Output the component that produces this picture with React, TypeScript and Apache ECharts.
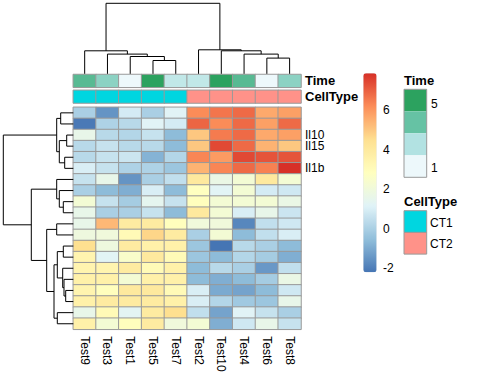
import React, { useEffect, useRef } from 'react';
import * as echarts from 'echarts';

// ---------- data ----------
const colNames = ['Test9', 'Test3', 'Test1', 'Test5', 'Test7', 'Test2', 'Test10', 'Test4', 'Test6', 'Test8'];
const timeValues = [4, 3, 1, 5, 2, 2, 5, 4, 1, 3];
const cellTypes = ['CT1', 'CT1', 'CT1', 'CT1', 'CT1', 'CT2', 'CT2', 'CT2', 'CT2', 'CT2'];
const cellTypeLevels = ['CT1', 'CT2'];
const rowIds = Array.from({ length: 20 }, (_, i) => 'row' + (i + 1));
const rowLabels = ['', '', 'Il10', 'Il15', '', 'Il1b', '', '', '', '', '', '', '', '', '', '', '', '', '', ''];

const values: number[][] = [
  [0.0, -1.5, 0.9, 0.0, 1.2, 6.2, 6.6, 6.8, 5.6, 5.8],
  [-2.1, 0.1, 0.3, 1.2, 0.9, 6.9, 6.2, 6.8, 5.8, 6.8],
  [1.6, 0.3, 0.2, 0.6, -0.6, 5.0, 6.5, 6.8, 5.6, 5.8],
  [0.3, 0.6, 0.3, 0.3, -0.6, 5.0, 7.4, 6.8, 5.4, 5.0],
  [0.3, 0.6, 0.7, -0.8, 0.2, 6.3, 5.9, 7.4, 7.2, 7.2],
  [1.0, 0.6, 0.1, 0.1, -0.3, 5.4, 6.3, 6.8, 6.4, 7.85],
  [0.6, 1.6, -1.5, 0.0, 0.5, 4.0, 1.7, 2.2, 4.0, 2.2],
  [0.0, -0.6, -0.9, 1.0, -0.6, 2.8, 1.25, 2.2, 0.9, 0.8],
  [2.2, 0.6, -0.1, 1.4, 0.6, 2.9, 2.2, 2.2, 2.2, 1.7],
  [1.6, 0.0, 0.0, 0.6, -0.6, 4.0, 2.2, 1.0, 1.6, 0.7],
  [1.6, 5.3, 3.9, 3.9, 2.9, 2.0, 2.0, -1.8, 0.5, 0.8],
  [1.9, 2.0, 3.1, 4.7, 3.9, 0.0, 2.2, -0.6, 0.5, 1.0],
  [4.5, 1.9, 3.9, 3.6, 3.6, -0.3, -2.2, 0.3, 0.0, -0.6],
  [3.4, 1.25, 2.5, 4.0, 3.1, -0.3, -0.6, 0.2, -0.1, -0.9],
  [3.4, 3.4, 3.9, 3.1, 3.6, -0.6, 0.3, 0.0, -1.4, 0.5],
  [3.6, 3.6, 2.2, 3.6, 3.6, -0.6, -0.9, -0.6, -0.1, 1.7],
  [3.4, 2.9, 4.0, 4.0, 3.1, 1.0, -1.0, -1.15, -0.6, 0.8],
  [3.6, 3.9, 3.9, 3.9, 3.6, 1.0, 0.2, -0.2, -0.3, 1.6],
  [1.6, 3.1, 1.3, 3.9, 4.5, 0.5, -1.15, 1.2, 0.6, 0.0],
  [3.6, 2.2, 2.9, 3.9, 2.0, 2.2, -0.9, 0.8, 1.6, 0.6],
];

// hclust-style merges: negative = leaf (display order, 1-based), positive = earlier merge (1-based)
const colMerges: [number, number, number][] = [
  [-4, -5, 13.3],
  [-3, 1, 17.3],
  [-2, 2, 19.7],
  [-1, 3, 23],
  [-9, -10, 15.7],
  [-8, 5, 19.7],
  [-7, 6, 23],
  [-6, 7, 24],
  [4, 8, 70.5],
];
const rowMerges: [number, number, number][] = [
  [-1, -2, 12.6],
  [-3, -4, 6.6],
  [-5, -6, 8.6],
  [2, 3, 14],
  [1, 4, 16.6],
  [-9, -10, 10],
  [-8, 6, 14],
  [-7, 7, 16.6],
  [-11, -12, 16.6],
  [-13, -14, 10],
  [-17, -18, 7.6],
  [-16, 11, 9.3],
  [-15, 12, 10.6],
  [10, 13, 16],
  [-19, -20, 16],
  [14, 15, 19.3],
  [9, 16, 26.6],
  [8, 17, 42],
  [5, 18, 70],
];

const valueMin = -2.2;
const valueMax = 7.85;
const heatPalette = ['#4575B4', '#91BFDB', '#E0F3F8', '#FFFFBF', '#FEE090', '#FC8D59', '#D73027'];
const timePalette = ['#EDF8FB', '#B2E2E2', '#66C2A4', '#2CA25F'];
const timeRange = [1, 5];
const cellTypeColors = ['#00D6E0', '#FF9289'];

// ---------- helpers ----------
function buildDendro(merges: [number, number, number][]) {
  const pos: number[] = [];
  const hts: number[] = [];
  const segs: number[][] = [];
  const node = (r: number): [number, number] => (r < 0 ? [-r - 1 + 0.5, 0] : [pos[r - 1], hts[r - 1]]);
  merges.forEach(([a, b, h], i) => {
    const [pa, ha] = node(a);
    const [pb, hb] = node(b);
    pos[i] = (pa + pb) / 2;
    hts[i] = h;
    segs.push([pa, pb, ha, hb, h]);
  });
  return segs;
}

const FONT = '"Liberation Sans", Arial, sans-serif';
const hiddenAxis = { show: false };
const noDeco = {
  axisLine: { show: false },
  axisTick: { show: false },
  splitLine: { show: false },
};

export default function App() {
  const ref = useRef<HTMLDivElement>(null);
  useEffect(() => {
    const chart = echarts.init(ref.current!, null, { renderer: 'svg' });

    const heatData: number[][] = [];
    values.forEach((row, r) => row.forEach((v, c) => heatData.push([c, r, v])));
    const timeData = timeValues.map((v, c) => [c, 0, v]);
    const ctData = cellTypes.map((t, c) => [c, 0, cellTypeLevels.indexOf(t)]);
    const colSegs = buildDendro(colMerges);
    const rowSegs = buildDendro(rowMerges);

    const HL = 73.3, HW = 227.7, HT = 107.3, HH = 222;
    const lineStyle = { stroke: '#000', lineWidth: 1, fill: 'none' };

    const legX = 404, legW = 22.7;
    const timeTop = 89.3, timeBlock = 22;
    const ctTop = 210.7, ctBlock = 21.7;
    const graphic: any[] = [
      { type: 'text', x: legX, y: 80.7, style: { text: 'Time', font: `bold 13px ${FONT}`, fill: '#000', verticalAlign: 'middle' } },
      ...timePalette.slice().reverse().map((c, k) => ({
        type: 'rect', shape: { x: legX, y: timeTop + timeBlock * k, width: legW, height: timeBlock }, style: { fill: c },
      })),
      { type: 'rect', shape: { x: legX, y: timeTop, width: legW, height: timeBlock * 4 }, style: { fill: 'none', stroke: '#999999', lineWidth: 1 } },
      { type: 'text', x: 431, y: 104, style: { text: String(timeRange[1]), font: `12px ${FONT}`, fill: '#000', verticalAlign: 'middle' } },
      { type: 'text', x: 431, y: 168.3, style: { text: String(timeRange[0]), font: `12px ${FONT}`, fill: '#000', verticalAlign: 'middle' } },
      { type: 'text', x: legX, y: 201.7, style: { text: 'CellType', font: `bold 13px ${FONT}`, fill: '#000', verticalAlign: 'middle' } },
      ...cellTypeLevels.map((lv, k) => ({
        type: 'rect', shape: { x: legX, y: ctTop + ctBlock * k, width: legW, height: ctBlock }, style: { fill: cellTypeColors[k], stroke: '#999999', lineWidth: 1 },
      })),
      ...cellTypeLevels.map((lv, k) => ({
        type: 'text', x: 430, y: ctTop + ctBlock * k + ctBlock / 2 + 1.2, style: { text: lv, font: `12px ${FONT}`, fill: '#000', verticalAlign: 'middle' },
      })),
    ];

    const option: any = {
      animation: false,
      backgroundColor: '#ffffff',
      textStyle: { fontFamily: FONT, color: '#000' },
      grid: [
        { left: HL, top: HT, width: HW, height: HH, outerBoundsMode: 'none' },
        { left: HL, top: 74.5, width: HW, height: 12.8, outerBoundsMode: 'none' },
        { left: HL, top: 90.3, width: HW, height: 12.7, outerBoundsMode: 'none' },
        { left: HL, top: 3.3, width: HW, height: 70.5, outerBoundsMode: 'none' },
        { left: 3.3, top: HT, width: 70, height: HH, outerBoundsMode: 'none' },
        { left: 363.3, top: 73.3, width: 13.3, height: 199, outerBoundsMode: 'none' },
      ],
      xAxis: [
        {
          gridIndex: 0, type: 'category', data: colNames, position: 'bottom', ...noDeco,
          axisLabel: { rotate: -90, margin: 7, interval: 0, fontSize: 12, color: '#000', fontFamily: FONT },
        },
        { gridIndex: 1, type: 'category', data: colNames, ...hiddenAxis },
        { gridIndex: 2, type: 'category', data: colNames, ...hiddenAxis },
        { gridIndex: 3, type: 'value', min: 0, max: colNames.length, ...hiddenAxis },
        { gridIndex: 4, type: 'value', min: 0, max: 70, inverse: true, ...hiddenAxis },
        { gridIndex: 5, type: 'value', min: 0, max: 1, ...hiddenAxis },
      ],
      yAxis: [
        {
          gridIndex: 0, type: 'category', data: rowIds, inverse: true, position: 'right', ...noDeco,
          axisLabel: {
            margin: 4, interval: 0, fontSize: 12, lineHeight: 10, color: '#000', fontFamily: FONT,
            formatter: (_v: string, i: number) => rowLabels[i],
          },
        },
        {
          gridIndex: 1, type: 'category', data: ['Time'], position: 'right', ...noDeco,
          axisLabel: { margin: 4, fontSize: 13, fontWeight: 'bold', color: '#000', fontFamily: FONT },
        },
        {
          gridIndex: 2, type: 'category', data: ['CellType'], position: 'right', ...noDeco,
          axisLabel: { margin: 4, fontSize: 13, fontWeight: 'bold', color: '#000', fontFamily: FONT },
        },
        { gridIndex: 3, type: 'value', min: 0, max: 70.5, ...hiddenAxis },
        { gridIndex: 4, type: 'value', min: 0, max: rowIds.length, inverse: true, ...hiddenAxis },
        {
          gridIndex: 5, type: 'value', min: valueMin, max: valueMax, position: 'right', ...noDeco,
          axisLabel: { margin: 6.5, fontSize: 12, color: '#000', fontFamily: FONT, showMinLabel: false, showMaxLabel: false },
        },
      ],
      visualMap: [
        {
          type: 'continuous', seriesIndex: 0, min: valueMin, max: valueMax, inRange: { color: heatPalette },
          left: 363.3, top: 73.3, itemWidth: 13.3, itemHeight: 199, padding: 0, calculable: false,
          hoverLink: false, orient: 'vertical', show: true,
        },
        {
          type: 'continuous', seriesIndex: 1, min: timeRange[0], max: timeRange[1], inRange: { color: timePalette }, show: false,
        },
        {
          type: 'piecewise', seriesIndex: 2, show: false,
          pieces: cellTypeLevels.map((_, k) => ({ value: k, color: cellTypeColors[k] })),
        },
      ],
      series: [
        {
          type: 'heatmap', xAxisIndex: 0, yAxisIndex: 0, data: heatData,
          itemStyle: { borderColor: '#999999', borderWidth: 1 }, emphasis: { disabled: true }, silent: true,
        },
        {
          type: 'heatmap', xAxisIndex: 1, yAxisIndex: 1, data: timeData,
          itemStyle: { borderColor: '#999999', borderWidth: 1 }, emphasis: { disabled: true }, silent: true,
        },
        {
          type: 'heatmap', xAxisIndex: 2, yAxisIndex: 2, data: ctData,
          itemStyle: { borderColor: '#999999', borderWidth: 1 }, emphasis: { disabled: true }, silent: true,
        },
        {
          type: 'custom', xAxisIndex: 3, yAxisIndex: 3, data: colSegs, silent: true,
          renderItem: (_p: any, api: any) => {
            const pa = api.value(0), pb = api.value(1), ha = api.value(2), hb = api.value(3), h = api.value(4);
            return {
              type: 'polyline',
              shape: { points: [api.coord([pa, ha]), api.coord([pa, h]), api.coord([pb, h]), api.coord([pb, hb])] },
              style: lineStyle,
            };
          },
        },
        {
          type: 'custom', xAxisIndex: 4, yAxisIndex: 4, data: rowSegs, silent: true,
          renderItem: (_p: any, api: any) => {
            const pa = api.value(0), pb = api.value(1), ha = api.value(2), hb = api.value(3), h = api.value(4);
            return {
              type: 'polyline',
              shape: { points: [api.coord([ha, pa]), api.coord([h, pa]), api.coord([h, pb]), api.coord([hb, pb])] },
              style: lineStyle,
            };
          },
        },
      ],
      graphic,
    };

    chart.setOption(option);
    return () => chart.dispose();
  }, []);

  return (
    <div
      ref={ref}
      style={{ position: 'fixed', left: 0, top: 0, width: 480, height: 384, background: '#ffffff' }}
    />
  );
}
